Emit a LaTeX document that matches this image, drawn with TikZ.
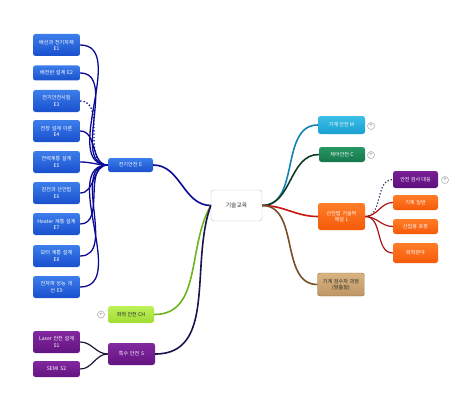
\documentclass[tikz,border=0pt]{standalone}
\usepackage{fontspec}
\setmainfont{Noto Sans CJK KR}
\begin{document}
\begin{tikzpicture}[x=1pt,y=-1pt,
  base/.style={rounded corners=2.5pt, align=center, inner sep=1pt, font=\fontsize{5.1}{6.2}\selectfont, text=white},
  ebox/.style={base, minimum width=47pt, text width=45pt, top color={rgb,255:red,60;green,125;blue,235}, bottom color={rgb,255:red,25;green,80;blue,205}},
  orbox/.style={base, minimum width=45pt, text width=43pt, top color={rgb,255:red,255;green,125;blue,40}, bottom color={rgb,255:red,245;green,90;blue,10}},
  purbox/.style={base, minimum width=47pt, text width=45pt, top color={rgb,255:red,130;green,40;blue,160}, bottom color={rgb,255:red,100;green,20;blue,130}},
  plus/.style={circle, draw=gray!70, fill=white, line width=0.5pt, minimum size=7pt, inner sep=0pt, font=\fontsize{6}{6}\selectfont, text=gray},
  ebr/.style={draw={rgb,255:red,10;green,10;blue,150}, line width=1.3pt},
]
\useasboundingbox (0,0) rectangle (474,412);
% E children
\node[ebox, minimum height=22pt] (e1) at (56.5,45) {배선과 전기자재\\E1};
\node[ebox, minimum height=15pt] (e2) at (56.5,73) {배전반 설계 E2};
\node[ebox, minimum height=22pt] (e3) at (56.5,101) {전기안전시험\\E3};
\node[ebox, minimum height=22pt] (e4) at (56.5,131) {전장 설계 이론\\E4};
\node[ebox, minimum height=22pt] (e5) at (56.5,162) {전력계통 설계\\E5};
\node[ebox, minimum height=22pt] (e6) at (56.5,193) {감전과 산안법\\E6};
\node[ebox, minimum height=22pt] (e7) at (56.5,224) {Heater 계통 설계\\E7};
\node[ebox, minimum height=22pt] (e8) at (56.5,256) {모터 계통 설계\\E8};
\node[ebox, minimum height=22pt] (e9) at (56.5,287) {전자파 성능 개\\선 E9};
\node[ebox, minimum width=45pt, text width=43pt, minimum height=14pt] (E) at (130.5,165) {전기안전 E};
% root
\node[base, text=black!80, draw=gray!50, fill=white, minimum width=51pt, minimum height=31pt, rounded corners=3pt, font=\fontsize{5.8}{6}\selectfont] (root) at (236.5,205.5) {기술교육};
% right branches
\node[base, minimum width=47pt, minimum height=18pt, top color={rgb,255:red,60;green,190;blue,230}, bottom color={rgb,255:red,25;green,160;blue,210}] (M) at (341.5,125) {기계 안전 M};
\node[plus] (pM) at (371,126) {+};
\node[base, minimum width=46pt, minimum height=15pt, top color={rgb,255:red,40;green,150;blue,100}, bottom color={rgb,255:red,20;green,120;blue,75}] (C) at (342,154.5) {제어안전 C};
\node[plus] (pC) at (371,155) {+};
\node[orbox, minimum width=47pt, text width=45pt, minimum height=27pt] (L) at (341.5,216.5) {산안법 기술적\\해설 L};
\node[base, minimum width=45pt, minimum height=17pt, top color={rgb,255:red,120;green,30;blue,150}, bottom color={rgb,255:red,95;green,15;blue,125}] (L1) at (415.5,179.5) {안전 검사 대응};
\node[plus] (pL1) at (445,180) {+};
\node[orbox, minimum height=15pt] (L2) at (415.5,202.5) {기계 일반};
\node[orbox, minimum height=15pt] (L3) at (415.5,226.5) {산업용 로봇};
\node[orbox, minimum height=20pt] (L4) at (415.5,253) {화학분야};
\node[base, text=black!85, draw={rgb,255:red,150;green,110;blue,60}, minimum width=46pt, text width=45pt, minimum height=23pt, top color={rgb,255:red,215;green,180;blue,130}, bottom color={rgb,255:red,190;green,150;blue,100}] (K) at (341,284.5) {기계 검수자 과정\\(맞춤형)};
% left bottom branches
\node[base, text=black!85, minimum width=46pt, minimum height=17pt, top color={rgb,255:red,190;green,240;blue,90}, bottom color={rgb,255:red,160;green,220;blue,50}] (CH) at (131,314.5) {화학 안전 CH};
\node[plus] (pCH) at (101,314.5) {+};
\node[purbox, minimum height=22pt] (S) at (131.5,354) {특수 안전 S};
\node[purbox, minimum height=22pt] (S1) at (56.5,342) {Laser 안전 설계\\S1};
\node[purbox, minimum height=16pt] (S2) at (56.5,369) {SEMI S2};
% connectors from root
\draw[ebr, line width=1.6pt] (root.west) to[out=180,in=0] (E.east);
\draw[draw={rgb,255:red,110;green,180;blue,30}, line width=1.6pt] (root.west) to[out=240,in=0] (CH.east);
\draw[draw={rgb,255:red,25;green,20;blue,80}, line width=1.6pt] (root.west) to[out=250,in=0] (S.east);
\draw[draw={rgb,255:red,20;green,130;blue,180}, line width=1.6pt] (root.east) to[out=0,in=180] (M.west);
\draw[draw={rgb,255:red,15;green,60;blue,35}, line width=1.6pt] (root.east) to[out=0,in=180] (C.west);
\draw[draw={rgb,255:red,200;green,20;blue,20}, line width=1.6pt] (root.east) to[out=0,in=180] (L.west);
\draw[draw={rgb,255:red,120;green,80;blue,40}, line width=1.6pt] (root.east) to[out=0,in=180] (K.west);
% E children
\foreach \n in {e1,e2,e4,e5,e6,e7,e8,e9}
  \draw[ebr] (\n.east) to[out=0,in=180] (E.west);
\draw[ebr, dotted, line width=1.3pt] (e3.east) to[out=0,in=180] (E.west);
% L children
\draw[draw={rgb,255:red,40;green,30;blue,80}, dotted, line width=1.2pt] (L.east) to[out=0,in=180] (L1.west);
\foreach \n in {L2,L3,L4}
  \draw[draw={rgb,255:red,170;green,20;blue,20}, line width=1.2pt] (L.east) to[out=0,in=180] (\n.west);
% S children
\foreach \n in {S1,S2}
  \draw[draw={rgb,255:red,35;green,20;blue,50}, line width=1.2pt] (\n.east) to[out=0,in=180] (S.west);
\end{tikzpicture}
\end{document}
